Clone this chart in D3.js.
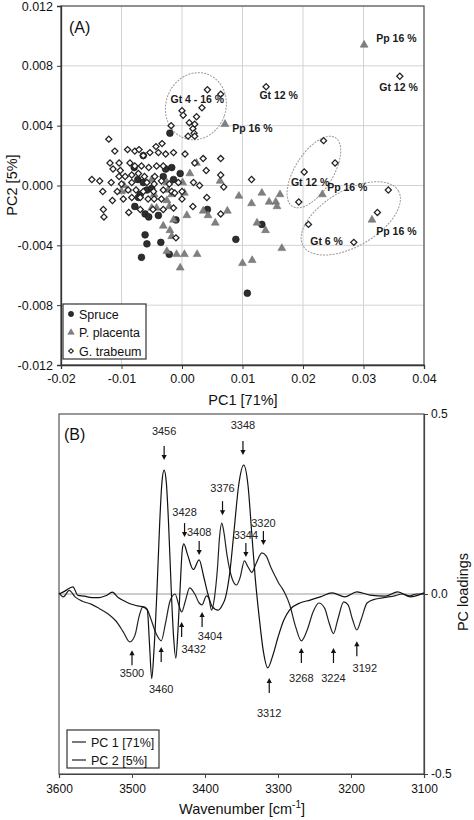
<!DOCTYPE html>
<html>
<head>
<meta charset="utf-8">
<script src="https://cdn.jsdelivr.net/npm/d3@7"></script>
<style>
  body { margin: 0; background: #fff; }
  svg { display: block; font-family: "Liberation Sans", Arial, sans-serif; }
</style>
</head>
<body>
<div id="wrapper"></div>
<script>
// ---- panel A : PCA scores ----
const spruce = [
  [-0.0020,0.0035],[-0.0079,0.0012],[-0.0064,0.0020],[-0.0027,0.0011],[-0.0017,0.0012],
  [-0.0003,0.0008],[-0.0014,0.0004],[-0.0073,0.0004],[-0.0064,0.0002],[-0.0058,-0.0003],
  [-0.0069,-0.0006],[-0.0078,-0.0014],[-0.0061,-0.0019],[-0.0055,-0.0021],[-0.0039,-0.0020],
  [-0.0010,-0.0023],[-0.0061,-0.0033],[-0.0058,-0.0039],[-0.0035,-0.0038],[-0.0067,-0.0048],
  [-0.0021,-0.0046],[0.0042,-0.0016],[0.0089,-0.0036],[0.0132,-0.0026],[0.0108,-0.0072],
  [-0.0031,0.0006],[-0.0050,-0.0002],[-0.0072,-0.0008]
];
const placenta = [
  [0.0301,0.0094],[0.0071,0.0041],[0.0063,0.0003],[0.0094,-0.0007],[0.0115,-0.0012],
  [0.0132,-0.0005],[0.0144,-0.0011],[0.0162,-0.0006],[0.0155,-0.0011],[0.0157,-0.0014],
  [0.0232,-0.0006],[0.0314,-0.0023],[0.0035,-0.0017],[0.0043,-0.0020],[0.0055,-0.0025],
  [0.0075,-0.0017],[0.0124,-0.0025],[0.0138,-0.0030],[0.0165,-0.0042],[0.0100,-0.0052],
  [0.0116,-0.0050],[-0.0050,0.0004],[-0.0096,0.0000],[-0.0100,-0.0004],[-0.0090,-0.0003],
  [-0.0025,0.0002],[-0.0023,-0.0003],[-0.0017,-0.0006],[0.0001,0.0002],[0.0004,-0.0005],
  [0.0013,0.0008],[0.0024,0.0015],[-0.0046,-0.0006],[-0.0050,-0.0015],[-0.0042,-0.0015],
  [-0.0025,-0.0010],[-0.0021,-0.0014],[0.0008,-0.0020],[-0.0031,-0.0027],[-0.0020,-0.0030],
  [-0.0017,-0.0034],[-0.0025,-0.0044],[-0.0009,-0.0046],[0.0004,-0.0046],[0.0025,-0.0046],
  [-0.0003,-0.0055],[-0.0014,-0.0023]
];
const trabeum = [
  [0.0042,0.0064],[0.0064,0.0061],[0.0033,0.0052],[0.0024,0.0046],[0.0000,0.0050],
  [0.0002,0.0047],[0.0012,0.0042],[0.0021,0.0041],[0.0018,0.0038],[0.0020,0.0035],
  [-0.0018,0.0040],[0.0010,0.0033],[0.0021,0.0033],[0.0139,0.0066],[0.0360,0.0073],
  [0.0234,0.0030],[0.0253,0.0015],[0.0202,0.0009],[0.0193,-0.0011],[0.0341,-0.0003],
  [0.0323,-0.0018],[0.0209,-0.0026],[0.0284,-0.0038],[0.0035,0.0018],[0.0064,0.0018],
  [0.0040,0.0010],[0.0064,0.0007],[0.0069,-0.0001],[0.0115,0.0004],[0.0041,-0.0008],
  [0.0064,-0.0019],
  [-0.0121,0.0031],[-0.0111,0.0023],[-0.0090,0.0024],[-0.0078,0.0023],[-0.0071,0.0024],
  [-0.0064,0.0020],[-0.0053,0.0022],[-0.0043,0.0026],[-0.0033,0.0028],[-0.0039,0.0022],
  [-0.0027,0.0021],[-0.0014,0.0022],[0.0005,0.0021],[-0.0119,0.0015],[-0.0104,0.0015],
  [-0.0114,0.0011],[-0.0102,0.0010],[-0.0086,0.0015],[-0.0078,0.0013],[-0.0067,0.0013],
  [-0.0055,0.0012],[-0.0042,0.0013],[-0.0031,0.0013],[-0.0104,0.0006],[-0.0094,0.0006],
  [-0.0083,0.0007],[-0.0072,0.0008],[-0.0062,0.0006],[-0.0045,0.0006],[-0.0149,0.0004],
  [-0.0136,0.0003],[-0.0117,0.0002],[-0.0100,0.0001],[-0.0083,0.0002],[-0.0058,0.0002],
  [-0.0046,0.0001],[-0.0034,0.0003],[-0.0021,0.0001],[-0.0006,0.0002],[-0.0131,-0.0004],
  [-0.0107,-0.0004],[-0.0089,-0.0003],[-0.0076,-0.0003],[-0.0064,-0.0004],[-0.0047,-0.0004],
  [-0.0031,-0.0003],[-0.0017,-0.0004],[0.0000,-0.0004],[-0.0115,-0.0010],[-0.0097,-0.0009],
  [-0.0083,-0.0008],[-0.0069,-0.0008],[-0.0056,-0.0009],[-0.0046,-0.0009],[-0.0034,-0.0009],
  [-0.0012,-0.0005],[0.0000,-0.0009],[-0.0130,-0.0016],[-0.0129,-0.0021],[-0.0088,-0.0018],
  [-0.0069,-0.0016],[-0.0048,-0.0016],[-0.0031,-0.0016],[-0.0014,-0.0015],[0.0018,-0.0014],
  [0.0021,0.0015],[0.0019,0.0002],[0.0029,0.0000],[-0.0010,-0.0035]
];
const scoreXTicks = [-0.02, -0.01, 0.00, 0.01, 0.02, 0.03, 0.04];
const scoreYTicks = [-0.012, -0.008, -0.004, 0.000, 0.004, 0.008, 0.012];
const groupNames = ["Spruce", "P. placenta", "G. trabeum"];
// text notes: [x, y, label]
const scoreNotes = [
  [0.0321, 0.0096, "Pp 16 %"], [0.0326, 0.0063, "Gt 12 %"], [0.0128, 0.0058, "Gt 12 %"],
  [-0.0019, 0.0055, "Gt 4 - 16 %"], [0.0083, 0.0036, "Pp 16 %"], [0.0180, 0.0000, "Gt 12 %"],
  [0.0240, -0.0004, "Pp 16 %"], [0.0321, -0.0033, "Pp 16 %"], [0.0212, -0.0040, "Gt 6 %"]
];
// ellipse centres
const ellipseCentres = [[0.0023, 0.0053], [0.0218, 0.0009], [0.0279, -0.0022]];

// ---- panel B : loadings ----
const pc1 = [
  [3600,0.000],[3592,0.008],[3581,0.020],[3574,-0.004],[3565,-0.006],[3555,-0.010],[3545,-0.010],
  [3535,-0.004],[3527,0.005],[3519,-0.010],[3508,-0.022],[3498,-0.030],[3490,-0.034],[3485,-0.036],
  [3479,-0.045],[3476,-0.140],[3473,-0.235],[3470,-0.160],[3466,0.000],[3462,0.200],[3459,0.310],
  [3456,0.344],[3453,0.310],[3450,0.200],[3446,0.000],[3443,-0.120],[3440,-0.178],[3437,-0.100],
  [3434,0.020],[3431,0.125],[3429,0.139],[3424,0.110],[3416,0.068],[3408,0.095],[3402,0.050],
  [3396,0.000],[3390,-0.035],[3382,-0.045],[3376,-0.030],[3372,-0.010],[3366,0.060],[3360,0.180],
  [3354,0.300],[3347,0.358],[3341,0.300],[3336,0.170],[3331,0.040],[3326,-0.060],[3320,-0.160],
  [3314,-0.205],[3307,-0.170],[3300,-0.120],[3292,-0.072],[3284,-0.044],[3270,-0.025],[3256,-0.017],
  [3242,-0.008],[3226,0.003],[3208,-0.008],[3192,0.006],[3174,-0.003],[3153,-0.006],[3136,0.006],
  [3119,-0.008],[3100,0.003]
];
const pc2 = [
  [3600,0.003],[3594,-0.008],[3586,0.010],[3578,-0.008],[3568,-0.020],[3556,-0.028],[3545,-0.040],
  [3533,-0.055],[3522,-0.075],[3512,-0.105],[3503,-0.133],[3496,-0.115],[3490,-0.060],[3485,-0.035],
  [3480,-0.040],[3474,-0.070],[3467,-0.110],[3460,-0.130],[3454,-0.080],[3448,-0.020],[3441,0.000],
  [3436,-0.030],[3432,-0.050],[3427,-0.020],[3421,0.017],[3414,0.000],[3408,-0.025],[3404,-0.030],
  [3398,-0.005],[3395,-0.010],[3391,-0.045],[3387,-0.010],[3383,0.070],[3380,0.160],[3377,0.197],
  [3374,0.170],[3370,0.110],[3364,0.050],[3357,0.025],[3352,0.045],[3346,0.092],[3341,0.075],
  [3336,0.060],[3330,0.085],[3322,0.114],[3316,0.105],[3310,0.075],[3304,0.050],[3299,0.030],
  [3294,0.015],[3290,0.000],[3284,-0.030],[3276,-0.090],[3268,-0.130],[3260,-0.100],[3252,-0.050],
  [3244,-0.025],[3236,-0.040],[3230,-0.080],[3224,-0.110],[3218,-0.070],[3210,-0.022],[3204,-0.030],
  [3198,-0.070],[3192,-0.100],[3186,-0.070],[3178,-0.025],[3168,-0.015],[3155,-0.010],[3140,-0.005],
  [3130,0.000],[3120,-0.005],[3110,0.000],[3100,0.000]
];
const seriesNames = ["PC 1 [71%]", "PC 2 [5%]"];
const waveTicks = [3600, 3500, 3400, 3300, 3200, 3100];
const loadTicks = [-0.5, 0.0, 0.5];
// band arrows: [wavenumber, arrow tip loading]
const bandsDown = [[3456,0.372],[3348,0.386],[3428,0.158],[3408,0.108],[3376,0.219],[3344,0.103],[3320,0.136]];
const bandsUp = [[3500,-0.156],[3460,-0.147],[3432,-0.078],[3404,-0.050],[3312,-0.233],[3268,-0.150],[3224,-0.150],[3192,-0.131]];

// label spacing for arrows
const gapDown = {3456: 11, 3348: 12, 3428: 7, 3408: 5, 3376: 9, 3344: 4, 3320: 4};
const gapUp = {3500: 12, 3460: 31, 3432: 16, 3404: 13, 3312: 24, 3268: 19, 3224: 19, 3192: 16};
const dxUp = {3432: 12, 3404: 8, 3192: 8};

const svg = d3.select("#wrapper").append("svg")
    .attr("width", 474)
    .attr("height", 820);

// ============ panel A ============
const dimA = {left: 61, right: 424, top: 6, bottom: 365};
const xA = d3.scaleLinear().domain([-0.02, 0.04]).range([dimA.left, dimA.right]);
const yA = d3.scaleLinear().domain([-0.012, 0.012]).range([dimA.bottom, dimA.top]);

const gA = svg.append("g");
gA.selectAll(".vgrid").data(scoreXTicks).join("line")
    .attr("x1", d => xA(d)).attr("x2", d => xA(d))
    .attr("y1", dimA.top).attr("y2", dimA.bottom)
    .attr("stroke", "#d2d2d2").attr("stroke-width", 1);
gA.selectAll(".hgrid").data(scoreYTicks).join("line")
    .attr("x1", dimA.left).attr("x2", dimA.right)
    .attr("y1", d => yA(d)).attr("y2", d => yA(d))
    .attr("stroke", "#d2d2d2").attr("stroke-width", 1);

gA.append("rect")
    .attr("x", dimA.left).attr("y", dimA.top)
    .attr("width", dimA.right - dimA.left).attr("height", dimA.bottom - dimA.top)
    .attr("fill", "none").attr("stroke", "#555").attr("stroke-width", 1.2);

const axA_x = gA.append("g")
    .attr("transform", `translate(0,${dimA.bottom})`)
    .call(d3.axisBottom(xA).tickValues(scoreXTicks).tickFormat(d => d.toFixed(2)).tickSize(4).tickPadding(5));
const axA_y = gA.append("g")
    .attr("transform", `translate(${dimA.left},0)`)
    .call(d3.axisLeft(yA).tickValues(scoreYTicks).tickFormat(d => d.toFixed(3)).tickSize(4).tickPadding(4));
[axA_x, axA_y].forEach(a => {
    a.select(".domain").attr("stroke", "#333").attr("stroke-width", 1.3);
    a.selectAll(".tick line").attr("stroke", "#333");
    a.selectAll("text").attr("font-size", 12.5).attr("fill", "#111").attr("font-family", null);
});

gA.append("text").attr("x", 243).attr("y", 405).attr("text-anchor", "middle")
    .attr("font-size", 14.5).attr("fill", "#111").text("PC1 [71%]");
gA.append("text").attr("transform", "translate(17,185) rotate(-90)").attr("text-anchor", "middle")
    .attr("font-size", 14.5).attr("fill", "#111").text("PC2 [5%]");
gA.append("text").attr("x", 69).attr("y", 33).attr("font-size", 16).attr("fill", "#111").text("(A)");

// ellipses
const ellipseShape = [[30, 34, 20], [19, 40.5, 32], [55, 28, -30]];
gA.selectAll(".ell").data(ellipseCentres).join("ellipse")
    .attr("transform", (d, i) => `translate(${xA(d[0])},${yA(d[1])}) rotate(${ellipseShape[i][2]})`)
    .attr("rx", (d, i) => ellipseShape[i][0]).attr("ry", (d, i) => ellipseShape[i][1])
    .attr("fill", "none").attr("stroke", "#999").attr("stroke-width", 1).attr("stroke-dasharray", "2,1.2");

const circleSym = d3.symbol().type(d3.symbolCircle).size(36);
const triSym = d3.symbol().type(d3.symbolTriangle).size(27);
const diaSym = d3.symbol().type(d3.symbolSquare).size(19);

gA.selectAll(".spruce").data(spruce).join("path")
    .attr("d", circleSym)
    .attr("transform", d => `translate(${xA(d[0])},${yA(d[1])})`)
    .attr("fill", "#2e2e2e").attr("stroke", "#111").attr("stroke-width", 0.6);
gA.selectAll(".placenta").data(placenta).join("path")
    .attr("d", triSym)
    .attr("transform", d => `translate(${xA(d[0])},${yA(d[1])})`)
    .attr("fill", "#808080").attr("stroke", "#6a6a6a").attr("stroke-width", 0.5);
gA.selectAll(".trabeum").data(trabeum).join("path")
    .attr("d", diaSym)
    .attr("transform", d => `translate(${xA(d[0])},${yA(d[1])}) rotate(45)`)
    .attr("fill", "#fff").attr("stroke", "#222").attr("stroke-width", 1.25);

gA.selectAll(".note").data(scoreNotes).join("text")
    .attr("x", d => xA(d[0])).attr("y", d => yA(d[1]))
    .attr("font-size", 10.5).attr("font-weight", "bold").attr("fill", "#1a1a1a")
    .text(d => d[2]);

// legend A
const legA = gA.append("g").attr("transform", "translate(63,304)");
legA.append("rect").attr("width", 83).attr("height", 55)
    .attr("fill", "#fff").attr("stroke", "#333").attr("stroke-width", 1.2);
const legSyms = [
    d3.symbol().type(d3.symbolCircle).size(22),
    d3.symbol().type(d3.symbolTriangle).size(18),
    d3.symbol().type(d3.symbolSquare).size(11)
];
groupNames.forEach((name, i) => {
    const yy = 10 + i * 18.5;
    legA.append("path").attr("d", legSyms[i])
        .attr("transform", `translate(8,${yy})` + (i === 2 ? " rotate(45)" : ""))
        .attr("fill", ["#2e2e2e", "#808080", "#fff"][i])
        .attr("stroke", ["#111", "#6a6a6a", "#222"][i])
        .attr("stroke-width", i === 2 ? 1.1 : 0.5);
    legA.append("text").attr("x", 16).attr("y", yy + 4.5)
        .attr("font-size", 12.5).attr("fill", "#111").text(name);
});

// ============ panel B ============
const dimB = {left: 59, right: 424, top: 414, bottom: 774};
const xB = d3.scaleLinear().domain([3600, 3100]).range([dimB.left, dimB.right]);
const yB = d3.scaleLinear().domain([-0.5, 0.5]).range([dimB.bottom, dimB.top]);
const gB = svg.append("g");

gB.append("line")
    .attr("x1", dimB.left).attr("x2", dimB.right)
    .attr("y1", yB(0)).attr("y2", yB(0))
    .attr("stroke", "#9a9a9a").attr("stroke-width", 1);

gB.append("rect")
    .attr("x", dimB.left).attr("y", dimB.top)
    .attr("width", dimB.right - dimB.left).attr("height", dimB.bottom - dimB.top)
    .attr("fill", "none").attr("stroke", "#555").attr("stroke-width", 1.2);

const axB_x = gB.append("g")
    .attr("transform", `translate(0,${dimB.bottom})`)
    .call(d3.axisBottom(xB).tickValues(waveTicks).tickFormat(d3.format("d")).tickSize(4).tickPadding(6));
const axB_y = gB.append("g")
    .attr("transform", `translate(${dimB.right},0)`)
    .call(d3.axisRight(yB).tickValues(loadTicks).tickFormat(d => d.toFixed(1)).tickSize(4).tickPadding(3));
[axB_x, axB_y].forEach(a => {
    a.select(".domain").attr("stroke", "#444").attr("stroke-width", 1.2);
    a.selectAll(".tick line").attr("stroke", "#444");
    a.selectAll("text").attr("font-size", 12).attr("fill", "#111").attr("font-family", null);
});

const wv = gB.append("text").attr("x", 242).attr("y", 814).attr("text-anchor", "middle")
    .attr("font-size", 14.5).attr("fill", "#111");
wv.append("tspan").text("Wavenumber [cm");
wv.append("tspan").attr("dy", -6).attr("font-size", 10).text("-1");
wv.append("tspan").attr("dy", 6).text("]");
gB.append("text").attr("transform", `translate(468,${yB(0) - 2}) rotate(-90)`).attr("text-anchor", "middle")
    .attr("font-size", 14.5).attr("fill", "#111").text("PC loadings");
gB.append("text").attr("x", 64).attr("y", 440).attr("font-size", 16).attr("fill", "#111").text("(B)");

const lineGenerator = d3.line()
    .x(d => xB(d[0]))
    .y(d => yB(d[1]))
    .curve(d3.curveMonotoneX);

gB.append("path").datum(pc2).attr("d", lineGenerator)
    .attr("fill", "none").attr("stroke", "#222").attr("stroke-width", 1.2);
gB.append("path").datum(pc1).attr("d", lineGenerator)
    .attr("fill", "none").attr("stroke", "#111").attr("stroke-width", 1.2);

// arrows
const arrowG = gB.append("g");
bandsDown.forEach(([w, v]) => {
    const x = xB(w), tip = yB(v), top = tip - 14;
    arrowG.append("line").attr("x1", x).attr("x2", x).attr("y1", top).attr("y2", tip - 3)
        .attr("stroke", "#111").attr("stroke-width", 1.2);
    arrowG.append("path").attr("d", `M${x - 2.6},${tip - 5}L${x + 2.6},${tip - 5}L${x},${tip}Z`).attr("fill", "#111");
    arrowG.append("text").attr("x", x).attr("y", top - gapDown[w]).attr("text-anchor", "middle")
        .attr("font-size", 11).attr("fill", "#222").text(w);
});
bandsUp.forEach(([w, v]) => {
    const x = xB(w), tip = yB(v), bottom = tip + 15;
    arrowG.append("line").attr("x1", x).attr("x2", x).attr("y1", tip + 3).attr("y2", bottom)
        .attr("stroke", "#111").attr("stroke-width", 1.2);
    arrowG.append("path").attr("d", `M${x - 2.6},${tip + 5}L${x + 2.6},${tip + 5}L${x},${tip}Z`).attr("fill", "#111");
    arrowG.append("text").attr("x", x + (dxUp[w] || 0)).attr("y", bottom + gapUp[w]).attr("text-anchor", "middle")
        .attr("font-size", 11).attr("fill", "#222").text(w);
});

// legend B
const legB = gB.append("g").attr("transform", "translate(67,730)");
legB.append("rect").attr("width", 92).attr("height", 38)
    .attr("fill", "#fff").attr("stroke", "#333").attr("stroke-width", 1.2);
seriesNames.forEach((name, i) => {
    const yy = 12 + i * 18;
    legB.append("line").attr("x1", 5).attr("x2", 19).attr("y1", yy).attr("y2", yy)
        .attr("stroke", "#222").attr("stroke-width", 1.2);
    legB.append("text").attr("x", 24).attr("y", yy + 4.5)
        .attr("font-size", 12.5).attr("fill", "#111").text(name);
});
</script>
</body>
</html>
